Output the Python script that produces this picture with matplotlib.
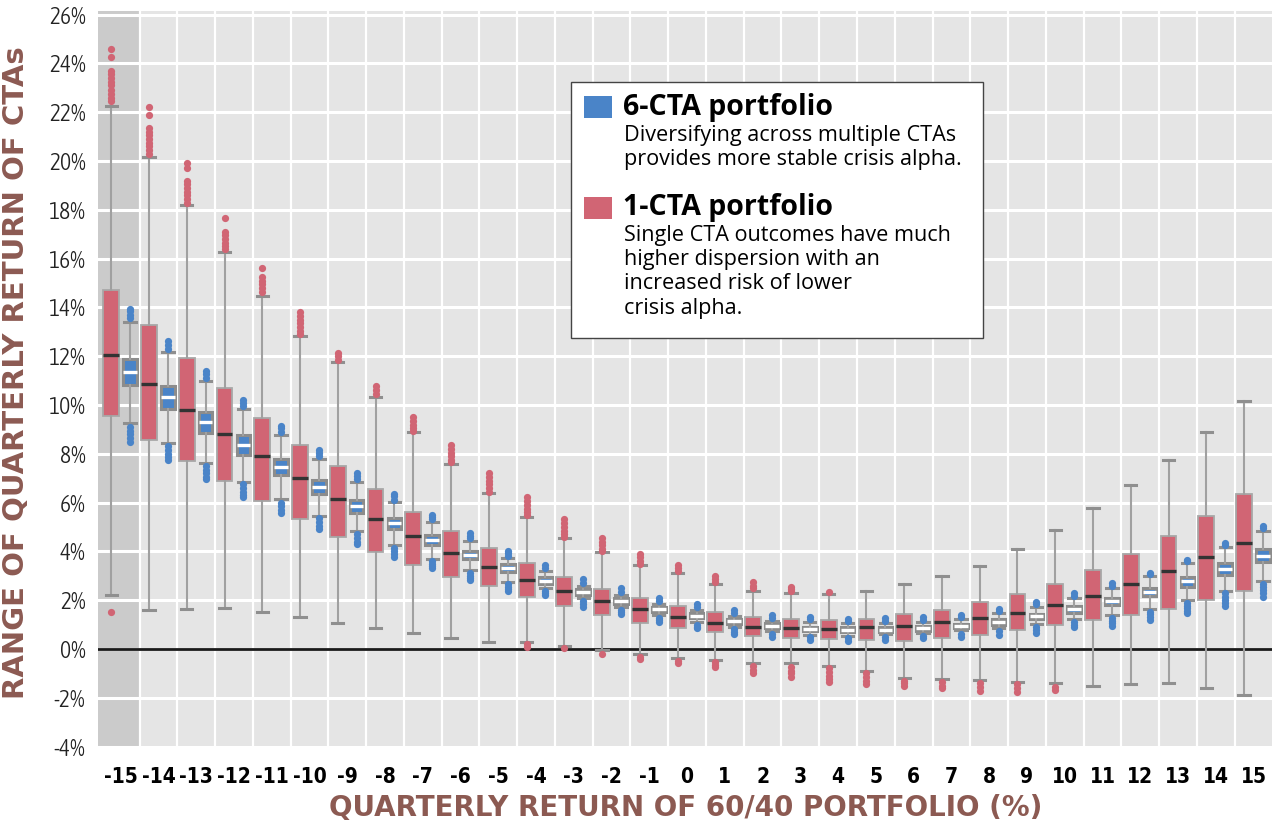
import matplotlib
matplotlib.use("Agg")
import matplotlib.pyplot as plt
from matplotlib import font_manager
from matplotlib.font_manager import FontProperties
from matplotlib.patches import Rectangle

categories = list(range(-15, 16))

# 1-CTA portfolio (red)
red_whislo = [2.23, 1.59, 1.65, 1.68, 1.53, 1.30, 1.07, 0.86, 0.66, 0.46, 0.30, 0.28, 0.14, -0.05, -0.22, -0.38,
              -0.45, -0.56, -0.59, -0.68, -0.89, -1.18, -1.23, -1.26, -1.35, -1.39, -1.50, -1.43, -1.41, -1.59, -1.89]
red_q1 = [9.56, 8.57, 7.69, 6.90, 6.07, 5.32, 4.60, 3.96, 3.43, 2.95, 2.57, 2.14, 1.76, 1.41, 1.08, 0.86,
          0.68, 0.53, 0.46, 0.40, 0.37, 0.34, 0.44, 0.57, 0.78, 0.98, 1.19, 1.39, 1.64, 2.01, 2.39]
red_med = [12.04, 10.85, 9.80, 8.80, 7.91, 7.02, 6.15, 5.32, 4.62, 3.95, 3.36, 2.83, 2.38, 1.98, 1.63, 1.32,
           1.07, 0.91, 0.85, 0.82, 0.89, 0.96, 1.09, 1.26, 1.48, 1.80, 2.18, 2.65, 3.18, 3.78, 4.36]
red_q3 = [14.71, 13.28, 11.94, 10.68, 9.45, 8.36, 7.50, 6.56, 5.63, 4.85, 4.15, 3.51, 2.94, 2.47, 2.08, 1.76,
          1.50, 1.32, 1.23, 1.19, 1.24, 1.42, 1.61, 1.94, 2.24, 2.66, 3.24, 3.89, 4.64, 5.44, 6.36]
red_whishi = [22.25, 20.15, 18.20, 16.28, 14.48, 12.83, 11.75, 10.34, 8.88, 7.57, 6.38, 5.42, 4.54, 3.98, 3.44, 3.10,
              2.65, 2.39, 2.31, 2.25, 2.38, 2.66, 2.99, 3.42, 4.10, 4.88, 5.79, 6.72, 7.75, 8.88, 10.16]
red_fliers = [
    [24.6, 24.25, 23.7, 23.55, 23.4, 23.25, 23.1, 22.9, 22.75, 22.6, 22.45, 1.5],
    [22.2, 21.9, 21.35, 21.2, 21.05, 20.9, 20.75, 20.6, 20.45, 20.3],
    [19.9, 19.7, 19.2, 19.05, 18.9, 18.75, 18.6, 18.45, 18.3],
    [17.65, 17.1, 16.95, 16.8, 16.65, 16.5, 16.4],
    [15.6, 15.25, 15.1, 14.95, 14.8, 14.65],
    [13.8, 13.65, 13.5, 13.35, 13.2, 13.05, 12.9],
    [12.14, 12.0, 11.85],
    [10.78, 10.6, 10.45],
    [9.52, 9.35, 9.2, 9.05, 8.95],
    [8.36, 8.2, 8.05, 7.9, 7.75, 7.65],
    [7.23, 7.05, 6.9, 6.75, 6.6, 6.45],
    [6.22, 6.05, 5.9, 5.75, 5.6, 5.5, 0.2, 0.1],
    [5.31, 5.15, 5.0, 4.85, 4.7, 4.6, 0.03],
    [4.54, 4.4, 4.25, 4.1, 4.0, -0.2],
    [3.89, 3.75, 3.6, 3.5, -0.35, -0.42],
    [3.44, 3.3, 3.2, -0.5, -0.59],
    [2.99, 2.85, 2.75, -0.55, -0.65, -0.75],
    [2.76, 2.6, 2.5, -0.7, -0.85, -1.0],
    [2.55, 2.45, 2.38, -0.75, -0.9, -1.0, -1.13],
    [2.35, -0.8, -0.95, -1.1, -1.25, -1.34],
    [-1.0, -1.15, -1.3, -1.43],
    [-1.3, -1.4, -1.52],
    [-1.35, -1.5, -1.61],
    [-1.4, -1.55, -1.72],
    [-1.45, -1.6, -1.78],
    [-1.55, -1.7],
    [], [], [], [], [],
]

# 6-CTA portfolio (blue)
blue_whislo = [9.26, 8.43, 7.62, 6.86, 6.15, 5.46, 4.84, 4.25, 3.70, 3.24, 2.76, 2.49, 2.08, 1.71, 1.39, 1.12,
               0.91, 0.74, 0.57, 0.55, 0.60, 0.64, 0.77, 0.85, 1.01, 1.22, 1.39, 1.65, 2.01, 2.39, 2.80]
blue_q1 = [10.82, 9.82, 8.87, 7.96, 7.12, 6.34, 5.59, 4.90, 4.26, 3.69, 3.14, 2.66, 2.23, 1.84, 1.52, 1.26,
           1.02, 0.85, 0.75, 0.70, 0.70, 0.75, 0.85, 1.00, 1.23, 1.49, 1.80, 2.17, 2.55, 3.03, 3.57]
blue_med = [11.37, 10.33, 9.32, 8.37, 7.47, 6.65, 5.86, 5.15, 4.47, 3.87, 3.31, 2.80, 2.35, 1.95, 1.63, 1.36,
            1.15, 0.94, 0.83, 0.79, 0.79, 0.85, 0.94, 1.11, 1.35, 1.63, 1.95, 2.34, 2.77, 3.28, 3.82]
blue_q3 = [11.89, 10.78, 9.73, 8.76, 7.80, 6.93, 6.10, 5.37, 4.67, 4.03, 3.47, 2.93, 2.47, 2.08, 1.73, 1.46,
           1.24, 1.05, 0.91, 0.89, 0.89, 0.93, 1.02, 1.22, 1.45, 1.76, 2.08, 2.49, 2.96, 3.51, 4.09]
blue_whishi = [13.40, 12.17, 10.98, 9.85, 8.77, 7.79, 6.84, 6.01, 5.22, 4.43, 3.72, 3.21, 2.58, 2.21, 1.86, 1.60,
               1.35, 1.16, 1.12, 1.05, 1.05, 1.09, 1.22, 1.46, 1.71, 2.08, 2.51, 2.99, 3.54, 4.17, 4.85]
blue_fliers = [
    [13.55, 13.7, 13.85, 13.93, 9.1, 8.95, 8.8, 8.65, 8.5],
    [12.3, 12.45, 12.64, 8.3, 8.15, 8.0, 7.85, 7.75],
    [11.1, 11.25, 11.38, 7.5, 7.35, 7.2, 7.05, 6.95],
    [9.95, 10.1, 10.2, 6.75, 6.6, 6.45, 6.3, 6.24],
    [8.9, 9.05, 9.14, 6.0, 5.85, 5.7, 5.56],
    [7.9, 8.05, 8.16, 5.35, 5.2, 5.05, 4.92],
    [6.95, 7.1, 7.2, 4.7, 4.55, 4.4, 4.3],
    [6.1, 6.25, 6.34, 4.15, 4.0, 3.88, 3.78],
    [5.32, 5.42, 5.49, 3.6, 3.5, 3.4, 3.31],
    [4.55, 4.65, 4.74, 3.12, 3.0, 2.9, 2.83],
    [3.82, 3.92, 4.03, 2.65, 2.55, 2.45, 2.39],
    [3.32, 3.44, 2.38, 2.28, 2.21],
    [2.72, 2.86, 1.95, 1.85, 1.73],
    [2.35, 2.49, 1.6, 1.5, 1.42],
    [1.98, 2.1, 1.28, 1.2, 1.12],
    [1.72, 1.84, 1.0, 0.92, 0.85],
    [1.48, 1.6, 0.8, 0.7, 0.61],
    [1.28, 1.39, 0.62, 0.5],
    [1.22, 1.3, 0.47, 0.37],
    [1.14, 1.22, 0.45, 0.34],
    [1.16, 1.26, 0.47, 0.37],
    [1.2, 1.32, 0.54, 0.44],
    [1.3, 1.39, 0.63, 0.5],
    [1.55, 1.63, 0.72, 0.57],
    [1.83, 1.94, 0.88, 0.77, 0.67],
    [2.18, 2.28, 1.1, 1.0, 0.91],
    [2.6, 2.69, 1.27, 1.15, 1.05, 0.94],
    [3.06, 3.13, 1.53, 1.42, 1.3, 1.19],
    [3.6, 3.65, 1.9, 1.78, 1.66, 1.55, 1.46],
    [4.25, 4.33, 2.28, 2.15, 2.02, 1.9, 1.76],
    [4.95, 5.04, 2.68, 2.55, 2.42, 2.28, 2.12],
]

y_ticks = list(range(-4, 27, 2))
x_label = "QUARTERLY RETURN OF 60/40 PORTFOLIO (%)"
y_label = "RANGE OF QUARTERLY RETURN OF CTAs"
legend_blue_title = "6-CTA portfolio"
legend_blue_text = "Diversifying across multiple CTAs\nprovides more stable crisis alpha."
legend_red_title = "1-CTA portfolio"
legend_red_text = ("Single CTA outcomes have much\nhigher dispersion with an\n"
                   "increased risk of lower\ncrisis alpha.")

RED = "#d16574"
BLUE = "#4a84c8"
LABEL_COLOR = "#8c5a52"

installed = {f.name for f in font_manager.fontManager.ttflist}
legend_font = "Open Sans" if "Open Sans" in installed else "DejaVu Sans"


def weight_num(w):
    if isinstance(w, (int, float)):
        return w
    return font_manager.weight_dict.get(w, 400)


def find_condensed(bold):
    hits = []
    for f in font_manager.fontManager.ttflist:
        st = str(f.stretch)
        if "condensed" not in st and "narrow" not in f.name.lower():
            continue
        if str(f.style) != "normal":
            continue
        w = weight_num(f.weight)
        if bold and w >= 600:
            hits.append((abs(w - 700), f.fname))
        if not bold and w <= 400:
            hits.append((abs(w - 300), f.fname))
    hits.sort()
    return hits[0][1] if hits else None


cond_bold = find_condensed(True)
cond_light = find_condensed(False)
if cond_bold:
    xtick_fp = FontProperties(fname=cond_bold, size=15)
else:
    xtick_fp = FontProperties(family=["Roboto", "DejaVu Sans"], weight="bold", size=14)
if cond_light:
    ytick_fp = FontProperties(fname=cond_light, size=17)
else:
    ytick_fp = FontProperties(family=["Roboto", "DejaVu Sans"], weight="light", size=17)

W, H = 1272, 826
fig = plt.figure(figsize=(W / 100, H / 100), dpi=100)
ax = fig.add_axes([98 / W, 1 - 748 / H, (1272 - 98) / W, (748 - 11) / H])
ax.set_facecolor("#e5e5e5")
ax.set_xlim(-15.6, 15.49)
ax.set_ylim(-4.06, 26.15)

# shaded crisis column
ax.axvspan(-15.6, -14.5, color="#cbcbcb", zorder=0.2, lw=0)
for v in y_ticks:
    ax.axhline(v, color="white", lw=2.2, zorder=0.5)
for c in categories[:-1]:
    ax.axvline(c + 0.5, color="white", lw=1.6, zorder=0.5)
ax.axhline(0, color="#1a1a1a", lw=2.0, zorder=1)


def make_stats(wlo, q1, med, q3, whi, fl):
    return [dict(whislo=a, q1=b, med=c, q3=d, whishi=e, fliers=f)
            for a, b, c, d, e, f in zip(wlo, q1, med, q3, whi, fl)]


red_stats = make_stats(red_whislo, red_q1, red_med, red_q3, red_whishi, red_fliers)
blue_stats = make_stats(blue_whislo, blue_q1, blue_med, blue_q3, blue_whishi, blue_fliers)

ax.bxp(red_stats, positions=[c - 0.25 for c in categories], widths=0.42, patch_artist=True,
       capwidths=0.3, manage_ticks=False, zorder=3,
       boxprops=dict(facecolor=RED, edgecolor="#a8a8a8", linewidth=1.3),
       medianprops=dict(color="#333333", linewidth=2.4),
       whiskerprops=dict(color="#a0a0a0", linewidth=1.5),
       capprops=dict(color="#8f8f8f", linewidth=2.2),
       flierprops=dict(marker="o", markerfacecolor=RED, markeredgecolor="none", markersize=5.2))
ax.bxp(blue_stats, positions=[c + 0.25 for c in categories], widths=0.36, patch_artist=True,
       capwidths=0.3, manage_ticks=False, zorder=3,
       boxprops=dict(facecolor=BLUE, edgecolor="#8c8c8c", linewidth=2.2),
       medianprops=dict(color="white", linewidth=2.4),
       whiskerprops=dict(color="#a0a0a0", linewidth=1.5),
       capprops=dict(color="#8f8f8f", linewidth=2.2),
       flierprops=dict(marker="o", markerfacecolor=BLUE, markeredgecolor="none", markersize=5.2))

for s in ax.spines.values():
    s.set_visible(False)
ax.set_xticks(categories)
ax.set_xticklabels([str(c) for c in categories], fontproperties=xtick_fp, color="black")
ax.set_yticks(y_ticks)
ax.set_yticklabels([f"{v}%" for v in y_ticks], fontproperties=ytick_fp, color="#222222")
ax.tick_params(axis="both", length=0)
ax.tick_params(axis="x", pad=14)
ax.tick_params(axis="y", pad=9)

fig.text(686 / W, 1 - 808 / H, x_label, ha="center", va="center", fontsize=20,
         fontweight="bold", color=LABEL_COLOR, family=["DejaVu Sans"])
fig.text(16 / W, 1 - 373 / H, y_label, ha="center", va="center", fontsize=21, rotation=90,
         fontweight="bold", color=LABEL_COLOR, family=["DejaVu Sans"])

# annotation / legend box
fig.patches.append(Rectangle((571 / W, 1 - 338 / H), (983 - 571) / W, (338 - 82) / H,
                             transform=fig.transFigure, facecolor="white", edgecolor="#444444",
                             lw=1.0, zorder=5))
fig.patches.append(Rectangle((584 / W, 1 - 118 / H), 28 / W, 22 / H, transform=fig.transFigure,
                             facecolor=BLUE, edgecolor="none", zorder=6))
fig.patches.append(Rectangle((584 / W, 1 - 219 / H), 28 / W, 22 / H, transform=fig.transFigure,
                             facecolor=RED, edgecolor="none", zorder=6))
fig.text(623 / W, 1 - 107 / H, legend_blue_title, fontsize=20.5, fontweight="bold",
         family=legend_font, va="center", ha="left", zorder=7)
fig.text(624 / W, 1 - 125 / H, legend_blue_text, fontsize=15.6, family=legend_font,
         va="top", ha="left", linespacing=1.2, zorder=7)
fig.text(623 / W, 1 - 208 / H, legend_red_title, fontsize=20.5, fontweight="bold",
         family=legend_font, va="center", ha="left", zorder=7)
fig.text(624 / W, 1 - 225 / H, legend_red_text, fontsize=15.6, family=legend_font,
         va="top", ha="left", linespacing=1.2, zorder=7)

fig.savefig("out.png", dpi=100, facecolor="white")
